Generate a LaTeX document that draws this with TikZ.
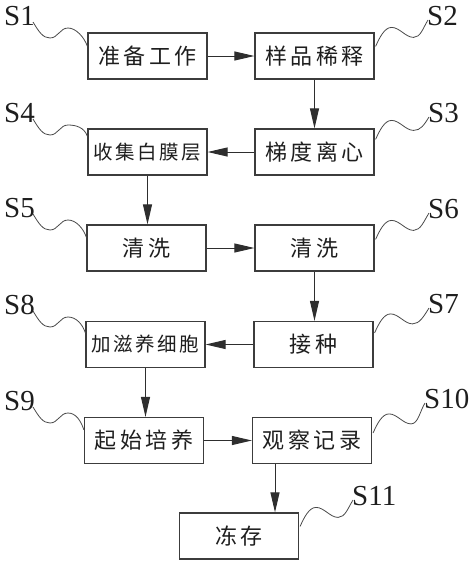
\documentclass[tikz,border=0pt]{standalone}
\usepackage{fontspec}
\setmainfont{Liberation Serif}
\newfontfamily\cjk{Noto Sans CJK SC}
\usetikzlibrary{arrows.meta,calc}
\definecolor{boxc}{HTML}{3C3C3C}
\definecolor{linec}{HTML}{2E2E2E}
\definecolor{leadc}{HTML}{4A4A4A}
\definecolor{txtc}{HTML}{1E1E1E}
\newlength\cjkgap
\def\sploop#1#2{#1\ifx\relax#2\else\hspace{\cjkgap}\expandafter\sploop\expandafter#2\fi}
\newcommand\spc[1]{\sploop#1\relax\relax}
\newcommand\leadL[3]{%
  \path ($(#1.base east)+(-2,-3)$) coordinate (la) ($(#2.north west)+(0,#3)$) coordinate (lb);
  \draw[lead] (la) .. controls ($(la)+(6,10)$) and ($(la)+(10,16)$) .. ($(la)+(17,16)$)
    .. controls ($(la)+(25,16)$) and ($(la)+(27,6)$) .. ($(la)+(35,6)$)
    .. controls ($(la)+(43,6)$) and ($(lb)+(-3,-9)$) .. (lb);}
\newcommand\leadR[3]{%
  \path ($(#1.north east)+(1,#3)$) coordinate (ra) ($(#2.base west)+(1,-5)$) coordinate (rb);
  \draw[lead] (ra) .. controls ($(ra)+(4,-9)$) and ($(ra)+(9,-19)$) .. ($(ra)+(16,-19)$)
    .. controls ($(ra)+(24,-19)$) and ($(ra)+(30,-9)$) .. ($(ra)+(38,-9)$)
    .. controls ($(ra)+(45,-9)$) and ($(rb)+(-5,8)$) .. (rb);}
\begin{document}
\begin{tikzpicture}[x=1pt,y=-1pt,
  box/.style={draw=boxc, line width=1.2pt, minimum width=119pt, minimum height=46pt,
    inner sep=0pt, text=txtc, font=\cjk\fontsize{22pt}{22pt}\selectfont\setlength\cjkgap{3.5pt}},
  boxsmall/.style={box, font=\cjk\fontsize{19.5pt}{19.5pt}\selectfont\setlength\cjkgap{2.5pt}},
  lab/.style={inner sep=0pt, text=txtc, font=\fontsize{29pt}{29pt}\selectfont},
  arr/.style={draw=linec, line width=1pt, -{Triangle[length=20pt,width=9pt]}},
  lead/.style={draw=leadc, line width=0.8pt}]
\useasboundingbox (0,0) rectangle (474,565);
% boxes
\node[box] (b1) at (147.5,56) {\spc{准备工作}};
\node[box] (b2) at (314.5,56) {\spc{样品稀释}};
\node[box] (b3) at (314.5,152) {\spc{梯度离心}};
\node[boxsmall] (b4) at (147.5,152) {\spc{收集白膜层}};
\node[box] (b5) at (146.5,248) {\spc{清洗}};
\node[box] (b6) at (314.5,248) {\spc{清洗}};
\node[box] (b7) at (313.5,344.5) {\spc{接种}};
\node[boxsmall] (b8) at (145.5,344.5) {\spc{加滋养细胞}};
\node[box] (b9) at (144,440.5) {\spc{起始培养}};
\node[box] (b10) at (312,440.5) {\spc{观察记录}};
\node[box] (b11) at (239,536) {\spc{冻存}};
% labels
\node[lab, anchor=base east] (l1) at (35,25) {S1};
\node[lab, anchor=base west] (l2) at (427,25) {S2};
\node[lab, anchor=base west] (l3) at (428,122) {S3};
\node[lab, anchor=base east] (l4) at (35,122) {S4};
\node[lab, anchor=base east] (l5) at (35,217) {S5};
\node[lab, anchor=base west] (l6) at (428,218) {S6};
\node[lab, anchor=base west] (l7) at (428,313) {S7};
\node[lab, anchor=base east] (l8) at (35,314) {S8};
\node[lab, anchor=base east] (l9) at (35,410) {S9};
\node[lab, anchor=base west] (l10) at (424,408) {S10};
\node[lab, anchor=base west] (l11) at (352,505) {S11};
% arrows
\draw[arr] (b1.east) -- (b2.west);
\draw[arr] (b2.south) -- (b3.north);
\draw[arr] (b3.west) -- (b4.east);
\draw[arr] (b4.south) -- (b4.south |- b5.north);
\draw[arr] (b5.east) -- (b6.west);
\draw[arr] (b6.south) -- (b6.south |- b7.north);
\draw[arr] (b7.west) -- (b8.east);
\draw[arr] (b8.south) -- (b8.south |- b9.north);
\draw[arr] (b9.east) -- (b10.west);
\coordinate (c10) at ($(b10.south)+(-37,0)$);
\draw[arr] (c10) -- (c10 |- b11.north);
% leaders
\leadL{l1}{b1}{14}
\leadR{b2}{l2}{14}
\leadR{b3}{l3}{11}
\leadL{l4}{b4}{8}
\leadL{l5}{b5}{13}
\leadR{b6}{l6}{15}
\leadR{b7}{l7}{12}
\leadL{l8}{b8}{12}
\leadL{l9}{b9}{13}
\leadR{b10}{l10}{16}
\leadR{b11}{l11}{14}
\end{tikzpicture}
\end{document}
